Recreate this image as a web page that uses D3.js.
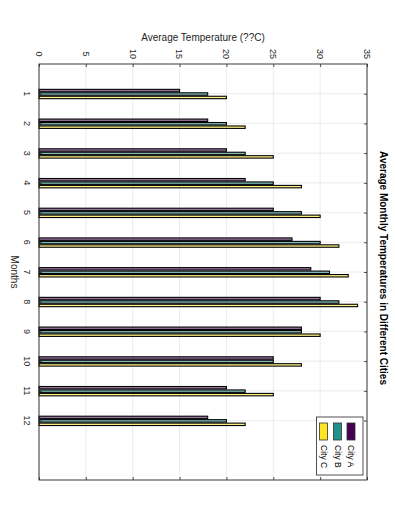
<!DOCTYPE html>
<html>
<head>
<meta charset="utf-8">
<script src="https://cdn.jsdelivr.net/npm/d3@7"></script>
<style>
  body { margin: 0; background: #fff; }
  svg { display: block; font-family: "Liberation Sans", Arial, sans-serif; }
</style>
</head>
<body>
<svg id="chart"></svg>
<script>
// Data
const months = [1, 2, 3, 4, 5, 6, 7, 8, 9, 10, 11, 12];
const cityA = [15, 18, 20, 22, 25, 27, 29, 30, 28, 25, 20, 18];
const cityB = [18, 20, 22, 25, 28, 30, 31, 32, 28, 25, 22, 20];
const cityC = [20, 22, 25, 28, 30, 32, 33, 34, 30, 28, 25, 22];
const seriesNames = ["City A", "City B", "City C"];
const seriesColors = ["#440154", "#21918c", "#fde725"];
const tempTicks = [0, 5, 10, 15, 20, 25, 30, 35];

const W = 395, H = 507;
const box = { left: 39, right: 367, top: 64, bottom: 480 };

const svg = d3.select("#chart").attr("width", W).attr("height", H);

// the figure is turned a quarter clockwise: values run left->right, months top->bottom
const x = d3.scaleLinear().domain([0, 35]).range([box.left, box.right]);
const y = d3.scaleLinear().domain([0, 14]).range([box.top, box.bottom]);
const inner = d3.scaleBand().domain(seriesNames).range([-5.4, 6.0]).padding(0.3);

// grid
svg.append("g").selectAll("line.vg")
    .data(tempTicks)
    .enter().append("line")
    .attr("x1", d => x(d)).attr("x2", d => x(d))
    .attr("y1", box.top).attr("y2", box.bottom)
    .attr("stroke", "#e3e3e3").attr("stroke-width", 0.7);

svg.append("g").selectAll("line.hg")
    .data(months)
    .enter().append("line")
    .attr("x1", box.left).attr("x2", box.right)
    .attr("y1", d => y(d)).attr("y2", d => y(d))
    .attr("stroke", "#e3e3e3").attr("stroke-width", 0.7);

// bars
const rows = months.map((m, i) => ({ month: m, values: [cityA[i], cityB[i], cityC[i]] }));
const groups = svg.append("g").selectAll("g")
    .data(rows)
    .enter().append("g")
    .attr("transform", d => `translate(0,${y(d.month)})`);

groups.selectAll("rect")
    .data(d => d.values.map((v, k) => ({ name: seriesNames[k], value: v, k })))
    .enter().append("rect")
    .attr("x", x(0))
    .attr("y", d => inner(d.name))
    .attr("width", d => x(d.value) - x(0))
    .attr("height", inner.bandwidth())
    .attr("fill", d => seriesColors[d.k])
    .attr("fill-opacity", 0.55)
    .attr("stroke", "#000")
    .attr("stroke-width", 1.1);

// axes (ticks only, labels are drawn turned below)
const axisTop = d3.axisTop(x).tickValues(tempTicks).tickSize(-3).tickFormat("");
const axisBottom = d3.axisBottom(x).tickValues(tempTicks).tickSize(-3).tickFormat("");
const axisLeft = d3.axisLeft(y).tickValues(months).tickSize(-3).tickFormat("");
const axisRight = d3.axisRight(y).tickValues(months).tickSize(-3).tickFormat("");

[[axisTop, `translate(0,${box.top})`], [axisBottom, `translate(0,${box.bottom})`],
 [axisLeft, `translate(${box.left},0)`], [axisRight, `translate(${box.right},0)`]]
    .forEach(([ax, tr]) => {
        const g = svg.append("g").attr("transform", tr).call(ax);
        g.select(".domain").remove();
        g.selectAll("line").attr("stroke", "#262626").attr("stroke-width", 0.8);
    });

svg.append("rect")
    .attr("x", box.left).attr("y", box.top)
    .attr("width", box.right - box.left).attr("height", box.bottom - box.top)
    .attr("fill", "none").attr("stroke", "#262626").attr("stroke-width", 0.9);

// value tick labels (turned)
svg.append("g").selectAll("text")
    .data(tempTicks)
    .enter().append("text")
    .attr("transform", d => `translate(${x(d)},54) rotate(90)`)
    .attr("text-anchor", "middle")
    .attr("dy", "0.35em")
    .attr("font-size", 9)
    .attr("fill", "#262626")
    .text(d => d);

// month tick labels (turned)
svg.append("g").selectAll("text")
    .data(months)
    .enter().append("text")
    .attr("transform", d => `translate(27,${y(d)}) rotate(90)`)
    .attr("text-anchor", "middle")
    .attr("dy", "0.35em")
    .attr("font-size", 9)
    .attr("fill", "#262626")
    .text(d => d);

// value axis label (upright)
svg.append("text")
    .attr("x", (box.left + box.right) / 2)
    .attr("y", 41)
    .attr("text-anchor", "middle")
    .attr("font-size", 10)
    .attr("fill", "#262626")
    .text("Average Temperature (??C)");

// months label
svg.append("text")
    .attr("transform", `translate(14,${(box.top + box.bottom) / 2}) rotate(90)`)
    .attr("text-anchor", "middle")
    .attr("dy", "0.35em")
    .attr("font-size", 10)
    .attr("fill", "#262626")
    .text("Months");

// title
svg.append("text")
    .attr("transform", `translate(383,${(box.top + box.bottom) / 2 - 4}) rotate(90)`)
    .attr("text-anchor", "middle")
    .attr("dy", "0.35em")
    .attr("font-size", 10)
    .attr("font-weight", "bold")
    .attr("fill", "#000")
    .text("Average Monthly Temperatures in Different Cities");

// legend
const legend = svg.append("g");
legend.append("rect")
    .attr("x", 316.5).attr("y", 417)
    .attr("width", 46.5).attr("height", 58)
    .attr("fill", "#fff").attr("stroke", "#262626").attr("stroke-width", 0.8);

const legendX = [351, 337.5, 323.5];
seriesNames.forEach((name, k) => {
    legend.append("rect")
        .attr("x", legendX[k] - 4).attr("y", 423)
        .attr("width", 8).attr("height", 17)
        .attr("fill", seriesColors[k])
        .attr("stroke", "#333").attr("stroke-width", 0.8);
    legend.append("text")
        .attr("transform", `translate(${legendX[k]},445) rotate(90)`)
        .attr("dy", "0.35em")
        .attr("font-size", 8.5)
        .attr("fill", "#000")
        .text(name);
});
</script>
</body>
</html>
